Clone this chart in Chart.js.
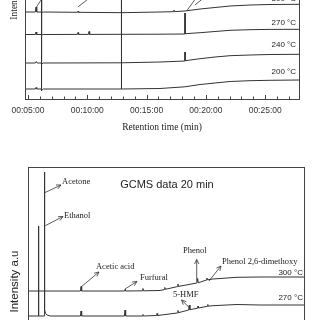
<!DOCTYPE html>
<html>
<head>
<meta charset="utf-8">
<script src="https://cdn.jsdelivr.net/npm/chart.js@4.4.1/dist/chart.umd.min.js"></script>
<style>
  html, body { margin: 0; padding: 0; width: 320px; height: 320px; overflow: hidden; background: #fff; }
  canvas { position: absolute; left: 0; }
  #top-chart { top: -113px; }
  #bottom-chart { top: 160px; }
</style>
</head>
<body>
<canvas id="top-chart" width="320" height="246"></canvas>
<canvas id="bottom-chart" width="320" height="270"></canvas>
<script>
const SANS = '"Liberation Sans", Arial, sans-serif';
const SERIF = '"Liberation Serif", "Times New Roman", serif';
const INK = '#333';

// retention time axis (minutes)
const tickMinutes = [5, 10, 15, 20, 25];
const tickLabels = ['00:05:00', '00:10:00', '00:15:00', '00:20:00', '00:25:00'];
const timeMin = 4.75;
const timeMax = 27.85;

// top panel: four runs, each one offset upwards (intensity a.u.)
const time300 = [4.75, 5.62, 5.68, 5.74, 6.13, 6.14, 6.15, 6.3, 9.17, 9.22, 9.27, 12.87, 12.88, 12.89, 16.13, 17.25, 17.3, 17.35, 18.24, 19.51, 20.77, 22.04, 23.72, 25.41, 27.85];
const int300 = [87, 87, 92, 87, 87, 230, 86.5, 87, 86.7, 88, 86.7, 86.3, 230, 86.3, 87, 87.3, 89, 87.4, 88, 90, 91.5, 93, 94, 94.5, 94.7];

const time270 = [4.75, 5.62, 5.68, 5.74, 6.13, 6.14, 6.15, 6.3, 9.17, 9.22, 9.27, 10.1, 10.15, 10.2, 12.87, 12.88, 12.89, 16.13, 18.23, 18.24, 18.25, 19.51, 20.77, 22.04, 23.72, 25.41, 27.85];
const int270 = [64.5, 64.5, 67, 64.5, 64.5, 230, 64, 64.5, 64.6, 66.5, 64.6, 64.6, 67.5, 64.6, 64.7, 230, 64.7, 64.8, 65, 86, 65.3, 66.3, 67.5, 68.7, 69.3, 69.6, 69.7];

const time240 = [4.75, 5.62, 5.7, 5.78, 6.13, 6.14, 6.15, 6.3, 12.87, 12.88, 12.89, 16.13, 18.23, 18.24, 18.25, 19.51, 20.77, 22.04, 23.72, 25.41, 27.85];
const int240 = [36, 36, 37.5, 36, 36, 230, 35, 36, 36.2, 230, 36.2, 37, 38, 47, 38.3, 40.3, 42, 43.3, 44, 44.5, 44.7];

const time200 = [4.75, 5.62, 5.68, 5.74, 6.13, 6.14, 6.15, 6.3, 12.87, 12.88, 12.89, 16.13, 18.24, 19.51, 20.77, 22.04, 23.72, 25.41, 27.85];
const int200 = [10, 10, 11.5, 10, 10, 230, 8.5, 10, 10, 230, 10, 10.5, 12.2, 14.5, 16, 17.5, 18.3, 18.7, 19];

// bottom panel: GCMS 20 min, 300 and 270 °C
const gcTime300 = [4.75, 9.14, 9.19, 9.24, 12.83, 12.87, 12.91, 14.33, 14.37, 14.41, 15.8, 16.16, 16.2, 16.24, 17.22, 17.26, 17.3, 17.34, 18.89, 18.95, 19.0, 19.69, 19.73, 19.77, 20.23, 22.24, 24.16, 27.85];
const gcInt300 = [105, 105, 109.5, 105, 105, 106.5, 105, 105.2, 107.5, 105.2, 105.5, 106.5, 108.5, 106.7, 109.3, 109.4, 112, 109.6, 113, 117.5, 113.2, 116, 118, 116.2, 117, 118.7, 119, 119];

const gcTime270 = [4.75, 5.61, 5.63, 5.65, 6.11, 6.13, 6.15, 6.22, 6.35, 6.6, 9.14, 9.19, 9.24, 12.82, 12.87, 12.92, 14.33, 14.37, 14.41, 15.5, 15.55, 15.6, 17.22, 17.26, 17.3, 17.34, 18.2, 18.25, 18.3, 18.94, 18.98, 19.02, 19.76, 19.8, 19.84, 20.23, 22.24, 24.16, 27.85];
const gcInt270 = [80, 80, 170, 80, 80, 224, 86, 82.5, 81, 80, 80, 85, 80, 80, 86, 80, 80, 81.5, 80, 80.5, 82.5, 80.5, 83, 83.1, 85.5, 83.3, 86, 91, 86.3, 87.8, 90, 88, 89.7, 91.5, 89.8, 90.3, 91.5, 91, 91];

// labels and arrows, anchored in data units [time, intensity]
const topTexts = [
    { text: '300 °C', t: 27.6, v: 100, font: '8px ' + SANS, align: 'right' },
    { text: '270 °C', t: 27.6, v: 76, font: '8px ' + SANS, align: 'right' },
    { text: '240 °C', t: 27.6, v: 54, font: '8px ' + SANS, align: 'right' },
    { text: '200 °C', t: 27.6, v: 27, font: '8px ' + SANS, align: 'right' }
];
const topArrows = [
    [5.72, 92, 6.71, 110],
    [9.24, 92.3, 11.16, 110],
    [18.38, 88, 19.71, 110],
    [19.08, 94, 20.74, 110]
];

const bottomTexts = [
    { text: 'GCMS data 20 min', t: 16.38, v: 211, font: '11px ' + SANS, align: 'center' },
    { text: 'Acetone', t: 7.6, v: 214, font: '8.5px ' + SERIF },
    { text: 'Ethanol', t: 7.76, v: 180, font: '8.5px ' + SERIF },
    { text: 'Acetic acid', t: 10.44, v: 129, font: '8.5px ' + SERIF },
    { text: 'Furfural', t: 14.12, v: 118, font: '8.5px ' + SERIF },
    { text: 'Phenol', t: 18.72, v: 145.3, font: '8.5px ' + SERIF, align: 'center' },
    { text: 'Phenol 2,6-dimethoxy', t: 20.98, v: 134, font: '8.5px ' + SERIF },
    { text: '5-HMF', t: 16.88, v: 101, font: '8.5px ' + SERIF },
    { text: '300 °C', t: 27.76, v: 123, font: '8px ' + SANS, align: 'right' },
    { text: '270 °C', t: 27.76, v: 98, font: '8px ' + SANS, align: 'right' }
];
const bottomArrows = [
    [6.15, 203.3, 7.51, 211],
    [6.2, 170.3, 7.68, 179.5],
    [9.19, 109, 10.69, 124],
    [12.87, 107, 13.87, 114.5],
    [18.87, 114.3, 18.87, 136.5],
    [19.9, 115, 20.9, 130],
    [18.31, 87.7, 17.6, 96]
];

function toPoints(times, values) {
    return times.map((t, i) => ({ x: t, y: values[i] }));
}

function trace(times, values) {
    return {
        data: toPoints(times, values),
        borderColor: INK,
        borderWidth: 1,
        pointRadius: 0,
        tension: 0,
        fill: false
    };
}

// frame round the plot area, with small inward ticks every minute
const framePlugin = {
    id: 'frame',
    afterDraw(chart) {
        const { ctx, chartArea: a, scales: { x } } = chart;
        ctx.save();
        ctx.strokeStyle = '#444';
        ctx.lineWidth = 1;
        ctx.strokeRect(a.left + 0.5, a.top + 0.5, a.right - a.left, a.bottom - a.top);
        ctx.beginPath();
        for (let m = Math.ceil(timeMin); m < timeMax; m++) {
            const px = Math.round(x.getPixelForValue(m)) + 0.5;
            const len = tickMinutes.includes(m) ? 4 : 2.5;
            ctx.moveTo(px, a.bottom);
            ctx.lineTo(px, a.bottom - len);
        }
        ctx.stroke();
        ctx.restore();
    }
};

function notesPlugin(texts, arrows) {
    return {
        id: 'notes',
        afterDatasetsDraw(chart) {
            const { ctx, scales: { x, y } } = chart;
            ctx.save();
            ctx.strokeStyle = '#333';
            ctx.lineWidth = 0.8;
            arrows.forEach(a => {
                const x1 = x.getPixelForValue(a[0]), y1 = y.getPixelForValue(a[1]);
                const x2 = x.getPixelForValue(a[2]), y2 = y.getPixelForValue(a[3]);
                const ang = Math.atan2(y2 - y1, x2 - x1);
                ctx.beginPath();
                ctx.moveTo(x1, y1);
                ctx.lineTo(x2, y2);
                ctx.moveTo(x2 - 5 * Math.cos(ang - 0.45), y2 - 5 * Math.sin(ang - 0.45));
                ctx.lineTo(x2, y2);
                ctx.lineTo(x2 - 5 * Math.cos(ang + 0.45), y2 - 5 * Math.sin(ang + 0.45));
                ctx.stroke();
            });
            ctx.fillStyle = '#222';
            ctx.textBaseline = 'middle';
            texts.forEach(n => {
                ctx.font = n.font;
                ctx.textAlign = n.align || 'left';
                ctx.fillText(n.text, x.getPixelForValue(n.t), y.getPixelForValue(n.v));
            });
            ctx.restore();
        }
    };
}

function timeAxis() {
    return {
        type: 'linear',
        min: timeMin,
        max: timeMax,
        afterBuildTicks: s => {
            const ticks = [];
            for (let m = 5; m <= 27; m++) ticks.push({ value: m });
            s.ticks = ticks;
        },
        ticks: {
            autoSkip: false,
            maxRotation: 0,
            padding: 7,
            color: '#333',
            font: { family: SANS, size: 8.5 },
            callback: v => {
                const i = tickMinutes.indexOf(v);
                return i >= 0 ? tickLabels[i] : '';
            }
        },
        grid: { display: false, drawTicks: false },
        border: { display: false },
        title: {
            display: true,
            text: 'Retention time (min)',
            color: '#222',
            font: { family: SERIF, size: 9.5 },
            padding: { top: 0, bottom: 0 }
        },
        afterFit: s => { s.height = 34; }
    };
}

function intensityAxis(max, width, title, font, pad) {
    return {
        min: 0,
        max: max,
        ticks: { display: false },
        grid: { display: false },
        border: { display: false },
        title: { display: true, text: title, color: '#222', font: font, padding: { top: pad, bottom: 0 } },
        afterFit: s => { s.width = width; }
    };
}

const common = {
    responsive: false,
    animation: false,
    devicePixelRatio: 1,
    plugins: { legend: { display: false }, tooltip: { enabled: false } }
};

const topChart = new Chart(document.querySelector('#top-chart'), {
    type: 'line',
    data: {
        datasets: [trace(time300, int300), trace(time270, int270), trace(time240, int240), trace(time200, int200)]
    },
    options: Object.assign({}, common, {
        layout: { padding: { left: 0, right: 21, top: 0, bottom: 0 } },
        scales: {
            x: timeAxis(),
            y: intensityAxis(212, 25, 'Intensity (a.u)', { family: SERIF, size: 9.5 }, 9)
        }
    }),
    plugins: [framePlugin, notesPlugin(topTexts, topArrows)]
});

const bottomChart = new Chart(document.querySelector('#bottom-chart'), {
    type: 'line',
    data: {
        datasets: [trace(gcTime300, gcInt300), trace(gcTime270, gcInt270)]
    },
    options: Object.assign({}, common, {
        layout: { padding: { left: 0, right: 16, top: 7, bottom: 0 } },
        scales: {
            x: timeAxis(),
            y: intensityAxis(229, 28, 'Intensity a.u', { family: SANS, size: 11.5 }, 8)
        }
    }),
    plugins: [framePlugin, notesPlugin(bottomTexts, bottomArrows)]
});
</script>
</body>
</html>
